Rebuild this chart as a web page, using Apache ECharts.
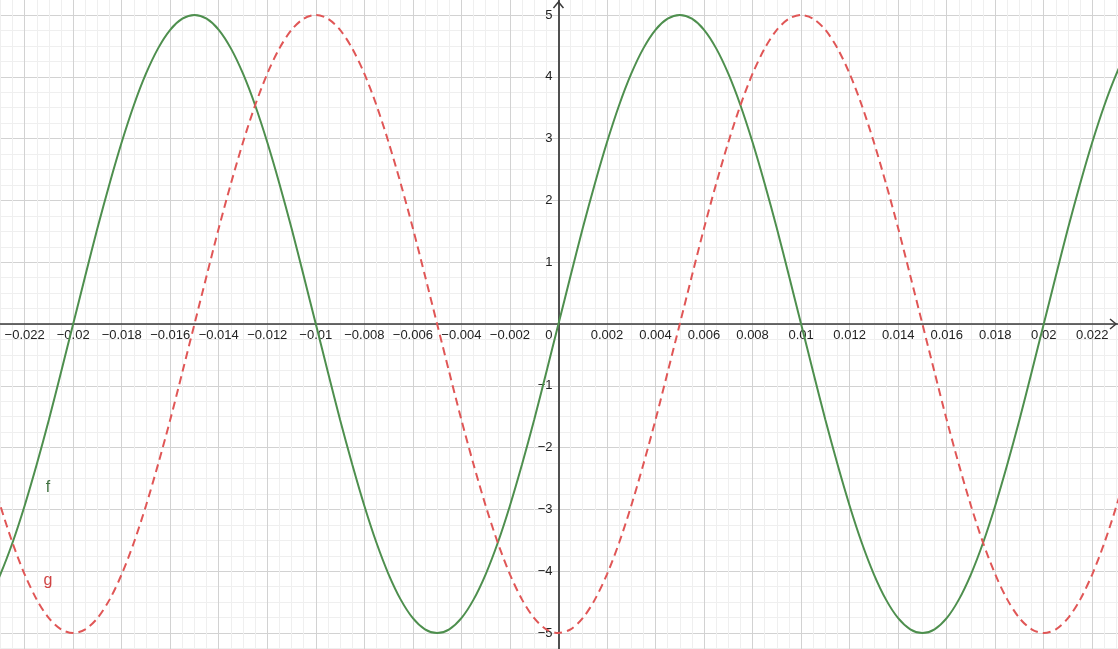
<!DOCTYPE html>
<html>
<head>
<meta charset="utf-8">
<script src="https://cdn.jsdelivr.net/npm/echarts@6/dist/echarts.min.js"></script>
<style>
html,body{margin:0;padding:0;background:#fff;}
#chart{width:1118px;height:649px;}
</style>
</head>
<body>
<div id="chart"></div>
<script>
// x sample positions (seconds)
const xValues = [
-0.024,-0.0235,-0.023,-0.0225,-0.022,-0.0215,-0.021,-0.0205,-0.02,-0.0195,
-0.019,-0.0185,-0.018,-0.0175,-0.017,-0.0165,-0.016,-0.0155,-0.015,-0.0145,
-0.014,-0.0135,-0.013,-0.0125,-0.012,-0.0115,-0.011,-0.0105,-0.01,-0.0095,
-0.009,-0.0085,-0.008,-0.0075,-0.007,-0.0065,-0.006,-0.0055,-0.005,-0.0045,
-0.004,-0.0035,-0.003,-0.0025,-0.002,-0.0015,-0.001,-0.0005,0,
0.0005,0.001,0.0015,0.002,0.0025,0.003,0.0035,0.004,0.0045,0.005,
0.0055,0.006,0.0065,0.007,0.0075,0.008,0.0085,0.009,0.0095,0.01,
0.0105,0.011,0.0115,0.012,0.0125,0.013,0.0135,0.014,0.0145,0.015,
0.0155,0.016,0.0165,0.017,0.0175,0.018,0.0185,0.019,0.0195,0.02,
0.0205,0.021,0.0215,0.022,0.0225,0.023,0.0235,0.024
];
// f (solid green)
const fValues = [
-4.76,-4.46,-4.05,-3.54,-2.94,-2.27,-1.55,-0.78,
0,0.78,1.55,2.27,2.94,3.54,4.05,4.46,4.76,4.94,5,4.94,4.76,4.46,4.05,3.54,2.94,2.27,1.55,0.78,
0,-0.78,-1.55,-2.27,-2.94,-3.54,-4.05,-4.46,-4.76,-4.94,-5,-4.94,-4.76,-4.46,-4.05,-3.54,-2.94,-2.27,-1.55,-0.78,
0,0.78,1.55,2.27,2.94,3.54,4.05,4.46,4.76,4.94,5,4.94,4.76,4.46,4.05,3.54,2.94,2.27,1.55,0.78,
0,-0.78,-1.55,-2.27,-2.94,-3.54,-4.05,-4.46,-4.76,-4.94,-5,-4.94,-4.76,-4.46,-4.05,-3.54,-2.94,-2.27,-1.55,-0.78,
0,0.78,1.55,2.27,2.94,3.54,4.05,4.46,4.76
];
// g (dashed red)
const gValues = [
-1.55,-2.27,-2.94,-3.54,-4.05,-4.46,-4.76,-4.94,-5,-4.94,-4.76,-4.46,-4.05,-3.54,-2.94,-2.27,-1.55,-0.78,
0,0.78,1.55,2.27,2.94,3.54,4.05,4.46,4.76,4.94,5,4.94,4.76,4.46,4.05,3.54,2.94,2.27,1.55,0.78,
0,-0.78,-1.55,-2.27,-2.94,-3.54,-4.05,-4.46,-4.76,-4.94,-5,-4.94,-4.76,-4.46,-4.05,-3.54,-2.94,-2.27,-1.55,-0.78,
0,0.78,1.55,2.27,2.94,3.54,4.05,4.46,4.76,4.94,5,4.94,4.76,4.46,4.05,3.54,2.94,2.27,1.55,0.78,
0,-0.78,-1.55,-2.27,-2.94,-3.54,-4.05,-4.46,-4.76,-4.94,-5,-4.94,-4.76,-4.46,-4.05,-3.54,-2.94,-2.27,-1.55
];
const seriesNames = ['f', 'g'];
const labelPositions = { f: [-0.02104, -2.64], g: [-0.02104, -4.16] };

const FONT = '"Liberation Sans", Arial, sans-serif';
const chart = echarts.init(document.getElementById('chart'), null, { renderer: 'canvas' });

function fmt(v) {
  if (Math.abs(v) < 1e-12) return '';
  const s = String(+v.toFixed(4));
  return s.replace('-', '\u2212');
}

const GRID = { left: -23.9, top: -46.8, width: 1164.7, height: 741.6 };

function buildOption(xOffset, yOffset) {
  return {
    animation: false,
    backgroundColor: '#ffffff',
    grid: Object.assign({ containLabel: false, outerBoundsMode: 'none' }, GRID),
    xAxis: {
      type: 'value', min: -0.024, max: 0.024, interval: 0.002,
      position: 'bottom', offset: xOffset,
      axisLine: { onZero: false, lineStyle: { color: '#3a3a3a', width: 1.5 } },
      axisTick: { show: false },
      axisLabel: { formatter: fmt, color: '#222', fontSize: 13, fontFamily: FONT, margin: 5 },
      splitLine: { show: true, lineStyle: { color: '#d2d2d2', width: 1 } },
      minorTick: { show: false, splitNumber: 4 },
      minorSplitLine: { show: true, lineStyle: { color: '#efefef', width: 1 } }
    },
    yAxis: {
      type: 'value', min: -6, max: 6, interval: 1,
      position: 'left', offset: yOffset,
      axisLine: { onZero: false, lineStyle: { color: '#505050', width: 2 } },
      axisTick: { show: false },
      axisLabel: { formatter: fmt, color: '#222', fontSize: 13, fontFamily: FONT, margin: 6 },
      splitLine: { show: true, lineStyle: { color: '#d2d2d2', width: 1 } },
      minorTick: { show: false, splitNumber: 4 },
      minorSplitLine: { show: true, lineStyle: { color: '#efefef', width: 1 } }
    },
    series: [
      {
        name: seriesNames[0], type: 'line', smooth: 0.3, showSymbol: false, symbol: 'none',
        data: xValues.map((x, i) => [x, fValues[i]]),
        lineStyle: { color: '#4e8f4e', width: 2 }, z: 3
      },
      {
        name: seriesNames[1], type: 'line', smooth: 0.3, showSymbol: false, symbol: 'none',
        data: xValues.map((x, i) => [x, gValues[i]]),
        lineStyle: { color: '#e05656', width: 2, type: [8, 5] }, z: 4
      }
    ]
  };
}

chart.setOption(buildOption(0, 0));
// move both axes onto the zero lines, using the library's own scales
const o0 = chart.convertToPixel({ gridIndex: 0 }, [0, 0]);
const bl = chart.convertToPixel({ gridIndex: 0 }, [-0.024, -6]);
chart.setOption(buildOption(-(bl[1] - o0[1]), -(o0[0] - bl[0])));

const o = chart.convertToPixel({ gridIndex: 0 }, [0, 0]);
const W = chart.getWidth();
const fp = chart.convertToPixel({ gridIndex: 0 }, labelPositions.f);
const gp = chart.convertToPixel({ gridIndex: 0 }, labelPositions.g);

chart.setOption({
  graphic: [
    { type: 'polyline', shape: { points: [[o[0] - 5, 8], [o[0], 2], [o[0] + 5, 8]] },
      style: { stroke: '#3a3a3a', lineWidth: 1.5, fill: null }, z: 10 },
    { type: 'polyline', shape: { points: [[W - 8, o[1] - 5], [W - 2, o[1]], [W - 8, o[1] + 5]] },
      style: { stroke: '#3a3a3a', lineWidth: 1.5, fill: null }, z: 10 },
    { type: 'text', x: o[0] - 6, y: o[1] + 11,
      style: { text: '0', fill: '#222', font: '13px ' + FONT, align: 'right', verticalAlign: 'middle' }, z: 10 },
    { type: 'text', x: fp[0], y: fp[1],
      style: { text: 'f', fill: '#3f703f', font: '16px ' + FONT, align: 'center', verticalAlign: 'middle' }, z: 10 },
    { type: 'text', x: gp[0], y: gp[1],
      style: { text: 'g', fill: '#d04444', font: '16px ' + FONT, align: 'center', verticalAlign: 'middle' }, z: 10 }
  ]
});
</script>
</body>
</html>
